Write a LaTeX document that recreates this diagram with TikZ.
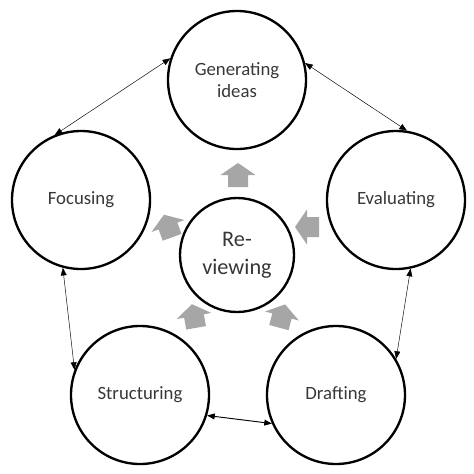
\documentclass[tikz,border=0pt]{standalone}
\usepackage{fontspec}
\setmainfont{Carlito}
\usetikzlibrary{arrows.meta}
\definecolor{blockgray}{RGB}{166,166,166}
\definecolor{textgray}{RGB}{55,55,55}

\begin{document}
\begin{tikzpicture}[<->,>={Triangle[length=6.5pt,width=5pt]},thin,
    stage/.style={circle,draw,line width=2pt,minimum size=4.14cm,inner sep=0pt,align=center,text=textgray,font=\fontsize{16}{19}\selectfont},
    centre/.style={stage,minimum size=3.42cm,font=\fontsize{19}{24}\selectfont},
    block/.pic={\fill[blockgray] (-0.36,-0.3) -- (0,-0.3) -- (0,-0.525) -- (0.36,0) -- (0,0.525) -- (0,0.3) -- (-0.36,0.3) -- cycle;}]

            \useasboundingbox (0,0) rectangle (14.22,-14.22);

            \node[stage] (gen) at (7.11,-2.40) {Generating\\ideas};
            \node[stage] (foc) at (2.43,-6.00) {Focusing};
            \node[stage] (eval) at (11.88,-6.00) {Evaluating};
            \node[stage] (struc) at (4.20,-11.85) {Structuring};
            \node[stage] (draft) at (10.08,-11.85) {Drafting};
            \node[centre] (rev) at (7.11,-7.65) {Re-\\viewing};

            % grey block arrows round the centre
            \pic[rotate=90] at (7.14,-5.25) {block};
            \pic[rotate=110] at (5.04,-6.78) {block};
            \pic[rotate=180] at (9.21,-6.81) {block};
            \pic[rotate=100] at (5.82,-9.48) {block};
            \pic[rotate=75] at (8.46,-9.48) {block};

            \draw (gen.162) to (foc.112);
            \draw (gen.14) to (eval.81);
            \draw (foc.255) to (struc.159);
            \draw (eval.282) to (draft.31);
            \draw[line width=0.8pt] (struc.343) to (draft.204);

            ;
        \end{tikzpicture}
\end{document}
